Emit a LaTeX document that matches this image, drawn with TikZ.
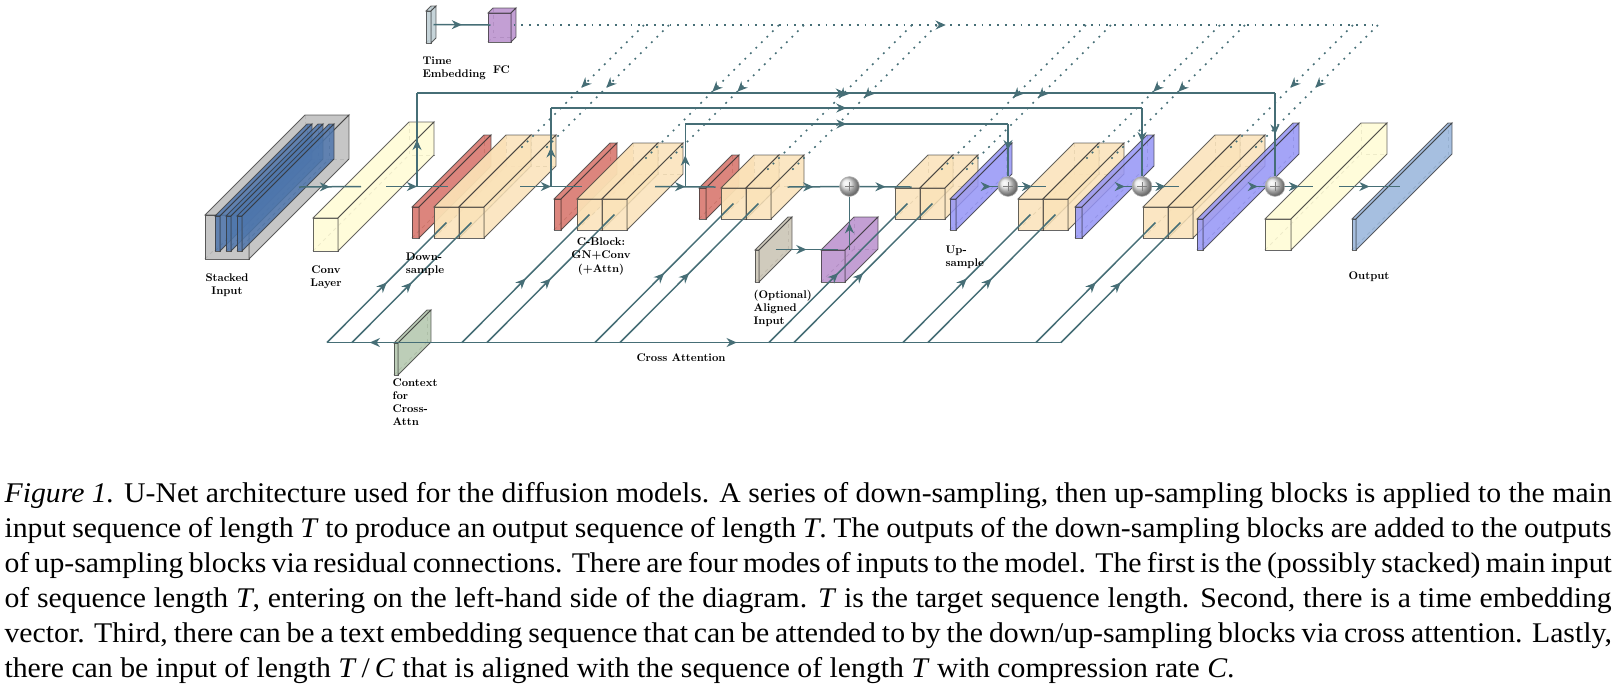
\documentclass[tikz,border=0pt]{standalone}
\usepackage{fontspec}
\usepackage{graphicx}
\usetikzlibrary{arrows.meta,decorations.markings,calc,positioning}
\newfontfamily\capfont{Liberation Serif}
\newfontfamily\lblfont{lmroman10-bold.otf}

\definecolor{conncol}{RGB}{70,110,118}
\definecolor{cblock}{RGB}{250,226,184}
\definecolor{convcol}{RGB}{255,251,212}
\definecolor{downcol}{RGB}{214,112,102}
\definecolor{upcol}{RGB}{148,148,246}
\definecolor{fccol}{RGB}{184,142,204}
\definecolor{stackcol}{RGB}{188,188,188}
\definecolor{seqcol}{RGB}{78,118,172}
\definecolor{outcol}{RGB}{150,180,218}
\definecolor{ctxcol}{RGB}{178,198,172}
\definecolor{aligncol}{RGB}{200,194,178}
\definecolor{tembcol}{RGB}{188,204,210}

\tikzset{
  face/.style={draw=black!80, draw opacity=0.75, line width=0.3pt, fill opacity=0.85},
  hidden/.style={draw=black!70, draw opacity=0.6, line width=0.25pt, dash pattern=on 1.2pt off 1.2pt},
  conn/.style={draw=conncol, line width=0.5pt},
  mid/.style={postaction={decorate, solid}, decoration={markings,
      mark=at position 0.5 with {\arrow[conncol]{Stealth[length=3.4pt,width=3pt]}}}},
  tline/.style={conn, dash pattern=on 0.6pt off 2pt},
  plus/.style={circle, shading=ball, ball color=white!80!gray, draw=black!30, line width=0.2pt,
      minimum size=6.6pt, inner sep=0pt,
      path picture={\draw[black!50, line width=0.3pt]
        ([xshift=-1.6pt]path picture bounding box.center) -- ([xshift=1.6pt]path picture bounding box.center)
        ([yshift=-1.6pt]path picture bounding box.center) -- ([yshift=1.6pt]path picture bounding box.center);}},
  lbl/.style={font=\lblfont\fontsize{3.7}{4.35}\selectfont, align=left, inner sep=0pt},
  capstyle/.style={anchor=base west, inner sep=0pt, font=\capfont\fontsize{9.5}{11.67}\selectfont},
}

% #1 name, #2 x, #3 top, #4 width, #5 height, #6 depth, #7 colour
\newcommand{\layerbox}[7]{%
  \draw[hidden] ({#2+#6},{#3-#6}) -- ({#2+#6},{#3+#5-#6}) -- ({#2+#4+#6},{#3+#5-#6});
  \draw[hidden] ({#2},{#3+#5}) -- ({#2+#6},{#3+#5-#6});
  \filldraw[face,fill=#7] ({#2},{#3}) rectangle ({#2+#4},{#3+#5});
  \filldraw[face,fill=#7] ({#2},{#3}) -- ({#2+#6},{#3-#6}) -- ({#2+#4+#6},{#3-#6}) -- ({#2+#4},{#3}) -- cycle;
  \filldraw[face,fill=#7] ({#2+#4},{#3}) -- ({#2+#4+#6},{#3-#6}) -- ({#2+#4+#6},{#3+#5-#6}) -- ({#2+#4},{#3+#5}) -- cycle;
  \coordinate (#1-fc) at ({#2+#4/2},{#3+#5/2});
  \coordinate (#1-bc) at ({#2+#4/2+#6},{#3+#5/2-#6});
  \coordinate (#1-w) at ({#2+#6/2},{#3+#5/2-#6/2});
  \coordinate (#1-e) at ({#2+#4+#6/2},{#3+#5/2-#6/2});
  \coordinate (#1-c) at ({#2+#4/2+#6/2},{#3+#5/2-#6/2});
}
% pair of C-Block cubes, #5 = tinted left face (1) or not (0)
\newcommand{\cpair}[5]{%
  \ifnum#5=1
    \fill[cblock!80!orange, fill opacity=0.65] ({#2},{#3}) -- ({#2+#4},{#3-#4}) -- ({#2+#4},{#3+31-#4}) -- ({#2},{#3+31}) -- cycle;
  \fi
  \layerbox{#1a}{#2}{#3}{25}{31}{#4}{cblock}
  \layerbox{#1b}{#2+25}{#3}{25}{31}{#4}{cblock}
}

\newsavebox{\capbox}
\newcommand{\capjust}[1]{\scalebox{\capsx}[1]{\hbox to\wd\capbox{#1}}}
\AtBeginDocument{%
  \sbox{\capbox}{\capfont\fontsize{9.5}{11.67}\selectfont \textit{Figure 1.} U-Net architecture used for the diffusion models. A series of down-sampling, then up-sampling blocks is applied to the main}%
  \pgfmathsetmacro{\capsx}{535.67/\the\wd\capbox}%
}

\begin{document}
\begin{tikzpicture}[x=0.3333pt, y=-0.3333pt]
\useasboundingbox (0,0) rectangle (1621,690);

% stacked input
\layerbox{stk}{205}{215}{44}{44}{100}{stackcol}
\foreach \sx [count=\i] in {215,226,237}{
  \layerbox{sq\i}{\sx}{216}{5}{35}{92}{seqcol}
}

% down path
\layerbox{conv1}{313}{218}{25}{33}{96}{convcol}
\layerbox{dn1}{412}{207}{7}{31}{72}{downcol}
\cpair{c1}{434}{207}{72}{1}
\layerbox{dn2}{554}{199}{7}{31}{56}{downcol}
\cpair{c2}{577}{199}{56}{1}
\layerbox{dn3}{699}{188}{7}{31}{33}{downcol}
\cpair{c3}{721}{188}{33}{1}

% aligned input
\layerbox{al}{755}{250}{4}{32}{33}{aligncol}
\layerbox{pur}{821}{250}{24}{32}{33}{fccol}

% up path
\cpair{uc1}{895}{188}{33}{0}
\layerbox{up1}{950}{199}{6}{31}{56}{upcol}
\cpair{uc2}{1018}{199}{56}{0}
\layerbox{up2}{1075}{207}{7}{31}{72}{upcol}
\cpair{uc3}{1143}{207}{72}{0}
\layerbox{up3}{1197}{219}{6}{31}{96}{upcol}
\layerbox{conv2}{1265}{219}{26}{31}{96}{convcol}
\layerbox{out}{1352}{219}{4}{31}{96}{outcol}

% time embedding and context
\layerbox{temb}{426}{11}{5}{32}{5}{tembcol}
\layerbox{fc}{488}{13}{23}{29}{5}{fccol}
\layerbox{ctx}{394}{343}{4}{32}{33}{ctxcol}

% adders
\node[plus] (p1) at (849.5,186.5) {};
\node[plus] (p2) at (1008,186.5) {};
\node[plus] (p3) at (1142,186.5) {};
\node[plus] (p4) at (1275,186.5) {};

% main flow
\draw[conn,mid] (stk-e) -- (conv1-w);
\draw[conn,mid] (conv1-e) -- (dn1-w);
\draw[conn,mid] (c1b-e) -- (dn2-w);
\draw[conn,mid] (c2b-e) -- (dn3-w);
\draw[conn,mid] (c3b-e) -- (p1);
\draw[conn,mid] (p1) -- (uc1a-w);
\draw[conn,mid] (up1-e) -- (p2);
\draw[conn,mid] (p2) -- (uc2a-w);
\draw[conn,mid] (up2-e) -- (p3);
\draw[conn,mid] (p3) -- (uc3a-w);
\draw[conn,mid] (up3-e) -- (p4);
\draw[conn,mid] (p4) -- (conv2-w);
\draw[conn,mid] (conv2-e) -- (out-w);

% skip connections
\coordinate (s1) at ($(conv1-e)!0.5!(dn1-w)$);
\coordinate (s2) at ($(c1b-e)!0.5!(dn2-w)$);
\coordinate (s3) at ($(c2b-e)!0.5!(dn3-w)$);
\coordinate (r1) at (0,93);
\coordinate (r2) at (0,108);
\coordinate (r3) at (0,124);
\draw[conn,mid] (s1) -- (s1 |- r1);
\draw[conn,mid] (s1 |- r1) -- (p4 |- r1);
\draw[conn,mid] (p4 |- r1) -- (p4);
\draw[conn,mid] (s2) -- (s2 |- r2);
\draw[conn,mid] (s2 |- r2) -- (p3 |- r2);
\draw[conn,mid] (p3 |- r2) -- (p3);
\draw[conn,mid] (s3) -- (s3 |- r3);
\draw[conn,mid] (s3 |- r3) -- (p2 |- r3);
\draw[conn,mid] (p2 |- r3) -- (p2);

% aligned input path
\draw[conn,mid] (al-e) -- (pur-w);
\draw[conn,mid] (pur-c) -- (p1);

% time embedding
\draw[conn,mid] (temb-e) -- (fc-w);
\coordinate (tend) at (1378,25);
\draw[tline,mid] (fc-e) -- (tend);
\foreach \tx/\tg in {644/c1a,669/c1b,779/c2a,804/c2b,912/c3a,937/c3b,
    1086/uc1a,1111/uc1b,1220/uc2a,1245/uc2b,1353/uc3a,1378/uc3b}{
  \coordinate (t-\tg) at (\tx,25);
  \draw[tline,mid] (t-\tg) -- (\tg-bc);
}

% cross attention
\coordinate (xl) at (327,342.5);
\coordinate (xr) at (1061,342.5);
\draw[conn,mid] (ctx-c) -- (xl);
\draw[conn,mid] (ctx-c) -- (xr);
\foreach \sx/\tg in {327/c1a,352/c1b,462/c2a,487/c2b,595/c3a,620/c3b,
    769/uc1a,794/uc1b,903/uc2a,928/uc2b,1036/uc3a,1061/uc3b}{
  \coordinate (x-\tg) at (\sx,342.5);
  \draw[conn,mid] (x-\tg) -- (\tg-fc);
}

% labels
\node[lbl, align=center] (lstk) at (227,285.5) {Stacked\\Input};
\node[lbl, align=center] (lconv) at (326,277) {Conv\\Layer};
\node[lbl] (ldown) at (425,264.5) {Down-\\sample};
\node[lbl, align=center] (lcblk) at (601,256.5) {C-Block:\\GN+Conv\\(+Attn)};
\node[lbl, anchor=west] (lalign) at (753,308) {(Optional)\\Aligned\\Input};
\node[lbl, anchor=west] (lup) at (945,257) {Up-\\sample};
\node[lbl] (lout) at (1369,277) {Output};
\node[lbl, anchor=north west] (lctx) at (392,378) {Context\\for\\Cross-\\Attn};
\node[lbl] (lcross) at (681,358) {Cross Attention};
\node[lbl, anchor=west] (ltemb) at (422,68.5) {Time\\Embedding};
\node[lbl] (lfc) at (501.5,70) {FC};

% caption
\node[capstyle] (cap1) at (4,502) {\capjust{\textit{Figure 1.} U-Net architecture used for the diffusion models. A series of down-sampling, then up-sampling blocks is applied to the main}};
\node[capstyle] (cap2) at (4,537) {\capjust{input sequence of length \textit{T} to produce an output sequence of length \textit{T}. The outputs of the down-sampling blocks are added to the outputs}};
\node[capstyle] (cap3) at (4,572) {\capjust{of up-sampling blocks via residual connections. There are four modes of inputs to the model. The first is the (possibly stacked) main input}};
\node[capstyle] (cap4) at (4,607) {\capjust{of sequence length \textit{T}, entering on the left-hand side of the diagram. \textit{T} is the target sequence length. Second, there is a time embedding}};
\node[capstyle] (cap5) at (4,642) {\capjust{vector. Third, there can be a text embedding sequence that can be attended to by the down/up-sampling blocks via cross attention. Lastly,}};
\node[capstyle] (cap6) at (4,677) {\scalebox{\capsx}[1]{there can be input of length \textit{T}\,/\,\textit{C} that is aligned with the sequence of length \textit{T} with compression rate \textit{C}.}};
\end{tikzpicture}
\end{document}
